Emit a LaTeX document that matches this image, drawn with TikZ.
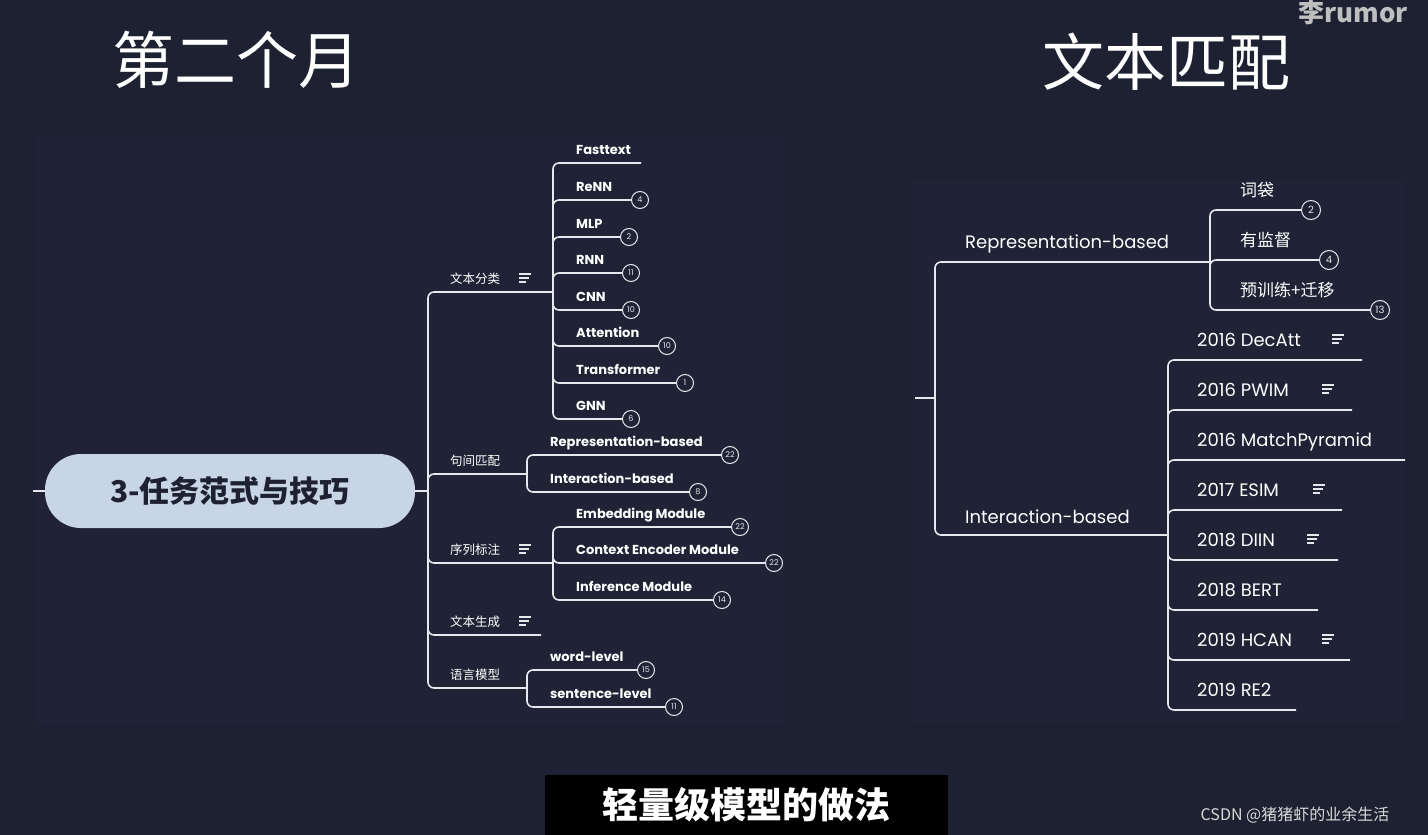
\documentclass[tikz,border=0pt]{standalone}
\usepackage{fontspec}
\setmainfont{Poppins}
\newfontfamily\cjk{Noto Sans CJK SC}
\definecolor{bg}{HTML}{1D2131}
\definecolor{panel}{HTML}{1F2335}
\definecolor{ln}{HTML}{E6E8EE}
\definecolor{pill}{HTML}{C8D5E5}
\begin{document}
\begin{tikzpicture}[x=1pt,y=-1pt,
  br/.style={draw=ln,line width=1.6pt,rounded corners=6pt},
  lab/.style={text=white,anchor=base west,inner sep=0pt,font=\fontsize{13}{13}\selectfont\bfseries},
  rlab/.style={text=white,anchor=base west,inner sep=0pt,font=\fontsize{18}{18}\selectfont},
  cnt/.style={circle,draw=ln,line width=1pt,minimum size=17pt,inner sep=0pt,text=ln,font=\fontsize{8}{8}\selectfont}]
\fill[bg] (0,0) rectangle (1428,835);
\useasboundingbox (0,0) rectangle (1428,835);
\fill[panel] (35,135) rectangle (785,725);
\fill[panel] (912,180) rectangle (1405,722);
\newcommand\note[2]{\foreach \k/\l in {0/12,4/10,8/7}{\draw[ln,line width=1.2pt] (#1,#2+\k) -- ++(\l,0);}}
% titles
\node[text=white,font=\cjk\fontsize{62}{62}\selectfont] (t1) at (236,60) {第二个月};
\node[text=white,font=\cjk\fontsize{62}{62}\selectfont] (t2) at (1166,62) {文本匹配};
\node[text=white!75!black,font=\cjk\fontsize{26}{26}\selectfont\bfseries] (wm) at (1353,13) {李rumor};
% left root
\node[fill=pill,rounded corners=36pt,minimum width=370pt,minimum height=74pt,text=bg,font=\cjk\fontsize{30}{30}\selectfont\bfseries] (root) at (230,491) {3-任务范式与技巧};
\coordinate (rs) at (33,491);
\draw[br] (rs) -- (root.west);
\coordinate (J) at (428,491);
\draw[br] (root.east) -- (J);
% level-1
\newcommand\lone[5]{% name, y, xend, label, icon
  \coordinate (#1) at (#3,#2);
  \draw[br] (J) |- (#1);
  \node[lab,font=\cjk\fontsize{12.5}{12.5}\selectfont] (#1l) at (450,#2-9) {#4};
  \ifx#5y\note{519}{#2-18}\fi}
\lone{wb}{292}{553}{文本分类}{y}
\lone{jj}{474}{527}{句间匹配}{n}
\lone{xl}{563}{553}{序列标注}{y}
\lone{ws}{635}{541}{文本生成}{y}
\lone{yy}{688}{527}{语言模型}{n}
% leaves
\newcommand\leaf[6]{% parent, x, y, label, circle x, num
  \node[lab] (n#3) at (#2+23,#3-9) {#4};
  \ifx&#6&\draw[br] (#1) |- (#5,#3);\else
  \node[cnt] (c#3) at (#5,#3) {#6};
  \draw[br] (#1) |- (c#3.west);\fi}
\leaf{wb}{553}{163}{Fasttext}{641}{}
\leaf{wb}{553}{200}{ReNN}{640}{4}
\leaf{wb}{553}{237}{MLP}{629}{2}
\leaf{wb}{553}{273}{RNN}{631}{11}
\leaf{wb}{553}{310}{CNN}{631}{10}
\leaf{wb}{553}{346}{Attention}{667}{10}
\leaf{wb}{553}{383}{Transformer}{685}{1}
\leaf{wb}{553}{419}{GNN}{631}{6}
\leaf{jj}{527}{455}{Representation-based}{730}{22}
\leaf{jj}{527}{492}{Interaction-based}{698}{8}
\leaf{xl}{553}{527}{Embedding Module}{740}{22}
\leaf{xl}{553}{563}{Context Encoder Module}{774}{22}
\leaf{xl}{553}{600}{Inference Module}{722}{14}
\leaf{yy}{527}{670}{word-level}{646}{15}
\leaf{yy}{527}{707}{sentence-level}{674}{11}
% right
\coordinate (rs2) at (915,398);
\coordinate (J2) at (935,398);
\draw[br] (rs2) -- (J2);
\coordinate (rb) at (1210,262);
\coordinate (ib) at (1168,535);
\draw[br] (J2) |- (rb);
\draw[br] (J2) |- (ib);
\node[rlab] (rbl) at (965,248) {Representation-based};
\node[rlab] (ibl) at (965,523) {Interaction-based};
\newcommand\cleaf[5]{% parent,y,label,circle,num
  \node[rlab,font=\cjk\fontsize{17}{17}\selectfont] (r#2) at (1240,#2-14) {#3};
  \node[cnt,minimum size=19pt,font=\fontsize{10}{10}\selectfont] (rc#2) at (#4,#2) {#5};
  \draw[br] (#1) |- (rc#2.west);}
\newcommand\rleaf[4]{% parent,y,label,end
  \node[rlab] (r#2) at (1197,#2-14) {#3};
  \coordinate (re#2) at (#4,#2);
  \draw[br] (#1) |- (re#2);}
\cleaf{rb}{210}{词袋}{1311}{2}
\cleaf{rb}{260}{有监督}{1329}{4}
\cleaf{rb}{310}{预训练+迁移}{1380}{13}
\rleaf{ib}{360}{2016 DecAtt}{1362}
\rleaf{ib}{410}{2016 PWIM}{1352}
\rleaf{ib}{460}{2016 MatchPyramid}{1405}
\rleaf{ib}{510}{2017 ESIM}{1342}
\rleaf{ib}{560}{2018 DIIN}{1338}
\rleaf{ib}{610}{2018 BERT}{1318}
\rleaf{ib}{660}{2019 HCAN}{1350}
\rleaf{ib}{710}{2019 RE2}{1296}
\note{1332}{335}\note{1322}{385}\note{1313}{485}\note{1307}{535}\note{1322}{635}
% caption
\node[fill=black,text=white,font=\cjk\fontsize{36}{36}\selectfont\bfseries,minimum width=403pt,minimum height=60pt,inner sep=0pt] (cap) at (746,805) {轻量级模型的做法};
\node[text=white!85!black,font=\cjk\fontsize{16}{16}\selectfont] (csdn) at (1295,815) {CSDN @猪猪虾的业余生活};
\end{tikzpicture}
\end{document}
